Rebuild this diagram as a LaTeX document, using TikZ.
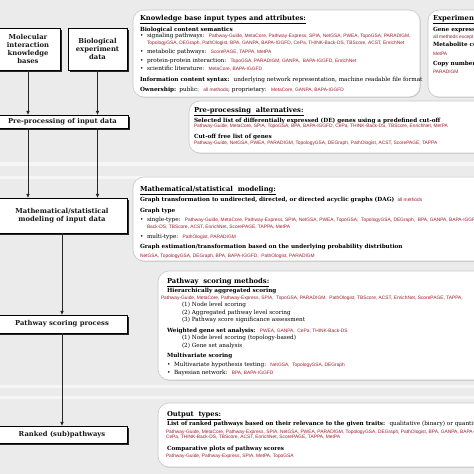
\documentclass[tikz,border=0pt]{standalone}
\usepackage{fontspec}
\setmainfont{DejaVu Serif}
\newfontfamily\rfam{Liberation Sans}
\usetikzlibrary{arrows.meta,shadows}
\definecolor{bgc}{RGB}{235,235,235}
\definecolor{bandc}{RGB}{246,246,246}
\definecolor{mred}{RGB}{155,30,42}
\definecolor{rbord}{RGB}{200,200,200}
\newcommand\hdg[1]{{\fontsize{6.8}{7}\selectfont\bfseries\underline{#1}}}
\newcommand\bt[1]{{\fontsize{5.7}{6}\selectfont\bfseries #1}}
\newcommand\nt[1]{{\fontsize{5.7}{6}\selectfont #1}}
\newcommand\rt[1]{{\fontsize{4.85}{5}\selectfont\rfam\color{mred}#1}}
\newcommand\bul{\makebox[7pt][l]{\nt{•}}}
\tikzset{
  lbox/.style={draw=black, line width=0.5pt, fill=white, align=center, inner sep=1pt,
    font=\fontsize{6.8}{7.7}\selectfont\bfseries, text=black!90,
    drop shadow={shadow xshift=1.8pt, shadow yshift=-1.8pt, fill=black!85, opacity=1, shadow scale=1}},
  rbox/.style={draw=rbord, line width=0.6pt, fill=white, rounded corners=11pt, inner sep=0pt,
    drop shadow={shadow xshift=0.8pt, shadow yshift=-0.8pt, fill=black, opacity=0.12, shadow scale=1}},
  ln/.style={anchor=base west, inner sep=0pt, outer sep=0pt},
  arr/.style={draw=black!85, line width=0.8pt, -{Triangle[length=4pt,width=3.2pt]}},
}
\begin{document}
\begin{tikzpicture}[x=1pt,y=-1pt]
\useasboundingbox (0,0) rectangle (474,474);
\clip (0,0) rectangle (474,474);
\fill[bgc] (0,0) rectangle (474,474);
% bands
\fill[bandc] (0,162) rectangle (474,166);
\fill[bandc] (0,176) rectangle (474,179);
\fill[bandc] (0,385) rectangle (474,388);
\fill[bandc] (0,396) rectangle (474,399);

% right boxes
\node[rbox, minimum width=287, minimum height=87] (bA) at (276.5,53.5) {};
\node[rbox, minimum width=132, minimum height=87] (bB) at (494,53.5) {};
\node[rbox, minimum width=331, minimum height=52] (bC) at (354.5,127) {};
\node[rbox, minimum width=387, minimum height=84] (bD) at (326.5,219) {};
\node[rbox, minimum width=362, minimum height=109] (bE) at (339,325.5) {};
\node[rbox, minimum width=362, minimum height=64] (bF) at (339,435) {};

% Box A
\node[ln] (a1) at (140,20) {\hdg{Knowledge base input types and attributes:}};
\node[ln] (a2) at (140,31) {\bt{Biological content semantics}};
\node[ln] (a3) at (140,37) {\bul\nt{signaling pathways:} \rt{Pathway-Guide, MetaCore, Pathway-Express, SPIA, NetGSA, PWEA, TopoGSA, PARADIGM,}};
\node[ln] (a4) at (147,44) {\rt{TopologyGSA, DEGraph, PathOlogist, BPA, GANPA, BAPA-IGGFD, CePa, THINK-Back-DS, TBScore, ACST, EnrichNet}};
\node[ln] (a5) at (140,53.5) {\bul\nt{metabolic pathways:} \rt{ScorePAGE, TAPPA, MetPA}};
\node[ln] (a6) at (140,62) {\bul\nt{protein-protein interaction:} \rt{TopoGSA, PARADIGM, GANPA,\ \ BAPA-IGGFD, EnrichNet}};
\node[ln] (a7) at (140,70) {\bul\nt{scientific literature:} \rt{MetaCore, BAPA-IGGFD}};
\node[ln] (a8) at (140,81.5) {\bt{Information content syntax:} \nt{underlying network representation, machine readable file format}};
\node[ln] (a9) at (140,91.5) {\bt{Ownership:}\ \nt{public:} \rt{all methods}\nt{;\ proprietary:} \rt{MetaCore, GANPA, BAPA-IGGFD}};

% Box B
\node[ln] (b1) at (433,20) {\hdg{Experimental data types:}};
\node[ln] (b2) at (433,31) {\bt{Gene expression data}};
\node[ln] (b3) at (433,38) {\rt{all methods except MetPA}};
\node[ln] (b4) at (433,46.5) {\bt{Metabolite concentration}};
\node[ln] (b5) at (433,55) {\rt{MetPA}};
\node[ln] (b6) at (433,65) {\bt{Copy number variation}};
\node[ln] (b7) at (433,73) {\rt{PARADIGM}};

% Box C
\node[ln] (c1) at (194,112.5) {\hdg{Pre-processing\ \ alternatives:}};
\node[ln] (c2) at (194,122) {\bt{Selected list of differentially expressed (DE) genes using a predefined cut-off}};
\node[ln] (c3) at (194,127.5) {\rt{Pathway-Guide, MetaCore, SPIA, TopoGSA, BPA, BAPA-IGGFD, CePa, THINK-Back-DS, TBScore, EnrichNet, MetPA}};
\node[ln] (c4) at (194,138.5) {\bt{Cut-off free list of genes}};
\node[ln] (c5) at (194,144.5) {\rt{Pathway-Guide, NetGSA, PWEA, PARADIGM, TopologyGSA, DEGraph, PathOlogist, ACST, ScorePAGE, TAPPA}};

% Box D
\node[ln] (d1) at (140,191) {\hdg{Mathematical/statistical\ \ modeling:}};
\node[ln] (d2) at (140,201) {\bt{Graph transformation to undirected, directed, or directed acyclic graphs (DAG)} \rt{all methods}};
\node[ln] (d3) at (140,212) {\bt{Graph type}};
\node[ln] (d4) at (140,221) {\bul\nt{single-type:} \rt{Pathway-Guide, MetaCore, Pathway-Express, SPIA, NetGSA, PWEA, TopoGSA,\ \ TopologyGSA, DEGraph,\ \ BPA, GANPA, BAPA-IGGFD, CePa, THINK-}};
\node[ln] (d5) at (147,228.5) {\rt{Back-DS, TBScore, ACST, EnrichNet, ScorePAGE, TAPPA, MetPA}};
\node[ln] (d6) at (140,238) {\bul\nt{multi-type:} \rt{PathOlogist, PARADIGM}};
\node[ln] (d7) at (140,248) {\bt{Graph estimation/transformation based on the underlying probability distribution}};
\node[ln] (d8) at (140,257) {\rt{NetGSA, TopologyGSA, DEGraph, BPA, BAPA-IGGFD,\ \ PathOlogist, PARADIGM}};

% Box E
\node[ln] (e1) at (167,283) {\hdg{Pathway\ \ scoring methods:}};
\node[ln] (e2) at (167,292) {\bt{Hierarchically aggregated scoring}};
\node[ln] (e3) at (161,299) {\rt{Pathway-Guide, MetaCore, Pathway-Express, SPIA,\ \ TopoGSA, PARADIGM,\ \ PathOlogist, TBScore, ACST, EnrichNet, ScorePAGE, TAPPA,}};
\node[ln] (e4) at (182,306.5) {\nt{(1) Node level scoring}};
\node[ln] (e5) at (182,314) {\nt{(2) Aggregated pathway level scoring}};
\node[ln] (e6) at (182,321) {\nt{(3) Pathway score significance assessment}};
\node[ln] (e7) at (167,332) {\bt{Weighted gene set analysis:} \rt{PWEA, GANPA,\ \ CePa, THINK-Back-DS}};
\node[ln] (e8) at (182,339.5) {\nt{(1) Node level scoring (topology-based)}};
\node[ln] (e9) at (182,347) {\nt{(2) Gene set analysis}};
\node[ln] (e10) at (167,357) {\bt{Multivariate scoring}};
\node[ln] (e11) at (167,366) {\bul\nt{Multivariate hypothesis testing:} \rt{NetGSA,\ \ TopologyGSA, DEGraph}};
\node[ln] (e12) at (167,374.5) {\bul\nt{Bayesian network:} \rt{BPA, BAPA-IGGFD}};

% Box F
\node[ln] (f1) at (167,416) {\hdg{Output\ \ types:}};
\node[ln] (f2) at (167,425.5) {\bt{List of ranked pathways based on their relevance to the given traits:} \nt{qualitative (binary) or quantitative}};
\node[ln] (f3) at (166,433.5) {\rt{Pathway-Guide, MetaCore, Pathway-Express, SPIA, NetGSA, PWEA, PARADIGM, TopologyGSA, DEGraph, PathOlogist, BPA, GANPA, BAPA-IGGFD,}};
\node[ln] (f4) at (166,438.5) {\rt{CePa, THINK-Back-DS, TBScore, ACST, EnrichNet, ScorePAGE, TAPPA, MetPA}};
\node[ln] (f5) at (167,450.5) {\bt{Comparative plots of pathway scores}};
\node[ln] (f6) at (166,457.5) {\rt{Pathway-Guide, Pathway-Express, SPIA, MetPA, TopoGSA}};

% left flow
\node[lbox, minimum width=64, minimum height=42] (n1) at (28,49) {Molecular\\interaction\\knowledge\\bases};
\node[lbox, minimum width=59, minimum height=42] (n2) at (97.5,49) {Biological\\experiment\\data};
\node[lbox, minimum width=131, minimum height=13] (n3) at (62.5,121.5) {Pre-processing of input data};
\node[lbox, minimum width=130, minimum height=35] (n4) at (62,215.5) {Mathematical/statistical\\modeling of input data};
\node[lbox, minimum width=130, minimum height=18] (n5) at (62,324) {Pathway scoring process};
\node[lbox, minimum width=130, minimum height=17] (n6) at (62,434.5) {Ranked (sub)pathways};

\draw[arr] (n1.south) -- (n1.south |- n3.north);
\draw[arr] (n2.south) -- (n2.south |- n3.north);
\draw[arr] (n3.south -| n1.south) -- (n4.north -| n1.south);
\draw[arr] (n3.south -| n2.south) -- (n4.north -| n2.south);
\draw[arr] (n4.south) -- (n5.north);
\draw[arr] (n5.south) -- (n6.north);
\end{tikzpicture}
\end{document}
